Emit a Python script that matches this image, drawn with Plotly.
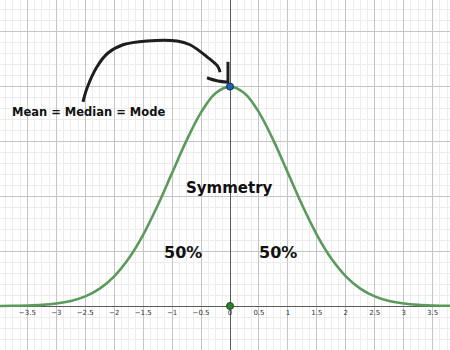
import plotly.graph_objects as go

# Curve values (standard normal bell curve)
curve_x = [-4.0, -3.75, -3.5, -3.25, -3.0, -2.75, -2.5, -2.25, -2.0, -1.75, -1.5, -1.25, -1.0,
           -0.75, -0.5, -0.25, 0.0, 0.25, 0.5, 0.75, 1.0, 1.25, 1.5, 1.75, 2.0, 2.25, 2.5,
           2.75, 3.0, 3.25, 3.5, 3.75, 4.0]
curve_y = [0.0001, 0.0004, 0.0009, 0.002, 0.0044, 0.0091, 0.0175, 0.0317, 0.054, 0.0863,
           0.1295, 0.1826, 0.242, 0.3011, 0.3521, 0.3867, 0.3989, 0.3867, 0.3521, 0.3011,
           0.242, 0.1826, 0.1295, 0.0863, 0.054, 0.0317, 0.0175, 0.0091, 0.0044, 0.002,
           0.0009, 0.0004, 0.0001]

peak_x = [0.0]
peak_y = [0.3989]
origin_x = [0.0]
origin_y = [0.0]

tick_vals = [-3.5, -3, -2.5, -2, -1.5, -1, -0.5, 0, 0.5, 1, 1.5, 2, 2.5, 3, 3.5]
tick_text = ["\u22123.5", "\u22123", "\u22122.5", "\u22122", "\u22121.5", "\u22121", "\u22120.5",
             "0", "0.5", "1", "1.5", "2", "2.5", "3", "3.5"]

# Hand-drawn arrow strokes (annotation, in data units)
arc_x = [-2.539, -2.470, -2.297, -2.107, -1.848, -1.434, -0.915, -0.691, -0.397, -0.207, -0.173]
arc_y = [0.371, 0.396, 0.435, 0.460, 0.475, 0.482, 0.482, 0.475, 0.453, 0.435, 0.425]
hook_x = [-0.397, -0.207, -0.035]
hook_y = [0.415, 0.409, 0.407]
stem_x = [-0.035, -0.035]
stem_y = [0.444, 0.405]

fig = go.Figure()

fig.add_trace(go.Scatter(x=curve_x, y=curve_y, mode="lines", line=dict(color="#5a9a5a", width=2.6, shape="spline"),
                         hoverinfo="skip"))

for sx, sy in [(arc_x, arc_y), (hook_x, hook_y), (stem_x, stem_y)]:
    fig.add_trace(go.Scatter(x=sx, y=sy, mode="lines",
                             line=dict(color="#1e1e1e", width=3, shape="spline"), hoverinfo="skip"))

fig.add_trace(go.Scatter(x=tick_vals, y=[-0.0128] * len(tick_vals), mode="text", text=tick_text,
                         textposition="middle center",
                         textfont=dict(family="DejaVu Sans", size=7, color="#333333"), hoverinfo="skip"))

fig.add_trace(go.Scatter(x=peak_x, y=peak_y, mode="markers",
                         marker=dict(color="#1f62b0", size=7, line=dict(color="#0d2c50", width=1))))
fig.add_trace(go.Scatter(x=origin_x, y=origin_y, mode="markers",
                         marker=dict(color="#2e7d32", size=7, line=dict(color="#1b4d1e", width=1))))

x0 = 230 / 57.9
x1 = 220 / 57.9
fig.update_xaxes(range=[-x0, x1], dtick=0.5, tick0=0, showgrid=True, gridcolor="#c4c4c4", gridwidth=1,
                 minor=dict(dtick=0.125, showgrid=True, gridcolor="#ededed"),
                 showticklabels=False, zeroline=True, zerolinecolor="#5a5a5a", zerolinewidth=1,
                 showline=False, fixedrange=True)
fig.update_yaxes(range=[-44 / 550, 306 / 550], dtick=0.1, tick0=0, showgrid=True, gridcolor="#c4c4c4",
                 gridwidth=1, minor=dict(dtick=0.02, showgrid=True, gridcolor="#ededed"),
                 showticklabels=False, zeroline=True, zerolinecolor="#5a5a5a", zerolinewidth=1,
                 showline=False, fixedrange=True)

def txt(x, y, s, size):
    fig.add_annotation(x=x, y=y, text=s, showarrow=False, xanchor="center", yanchor="middle",
                       font=dict(family="DejaVu Sans", size=size, color="#111111"))

txt((88 - 230) / 57.9, (306 - 112) / 550, "<b>Mean = Median = Mode</b>", 11.5)
txt((229 - 230) / 57.9, (306 - 188) / 550, "<b>Symmetry</b>", 15)
txt((183 - 230) / 57.9, (306 - 252) / 550, "<b>50%</b>", 16)
txt((278 - 230) / 57.9, (306 - 252) / 550, "<b>50%</b>", 16)

fig.update_layout(width=450, height=350, margin=dict(l=0, r=0, t=0, b=0), showlegend=False,
                  plot_bgcolor="white", paper_bgcolor="white")

fig.write_html("out.html")
